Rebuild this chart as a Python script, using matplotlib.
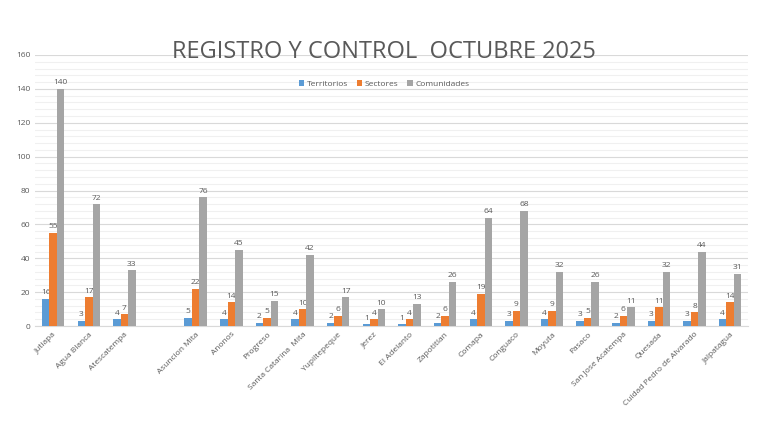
import matplotlib.pyplot as plt
import numpy as np
from matplotlib.ticker import MultipleLocator

municipios = ["Jutiapa", "Agua Blanca", "Atescatempa", "", "Asuncion Mita", "Anonos",
              "Progreso", "Santa Catarina  Mita", "Yupiltepeque", "Jerez", "El Adelanto",
              "Zapotitlan", "Comapa", "Conguaco", "Moyuta", "Pasaco", "San Jose Acatempa",
              "Quesada", "Cuidad Pedro de Alvarado", "Jalpatagua"]
territorios = [16, 3, 4, np.nan, 5, 4, 2, 4, 2, 1, 1, 2, 4, 3, 4, 3, 2, 3, 3, 4]
sectores = [55, 17, 7, np.nan, 22, 14, 5, 10, 6, 4, 4, 6, 19, 9, 9, 5, 6, 11, 8, 14]
comunidades = [140, 72, 33, np.nan, 76, 45, 15, 42, 17, 10, 13, 26, 64, 68, 32, 26, 11, 32, 44, 31]

series = [("Territorios", territorios, "#5B9BD5"),
          ("Sectores", sectores, "#ED7D31"),
          ("Comunidades", comunidades, "#A5A5A5")]

plt.rcParams["font.family"] = ["Open Sans", "DejaVu Sans"]
txt = "#595959"

fig = plt.figure(figsize=(7.68, 4.33), dpi=100)
ax = fig.add_axes([0.046, 0.247, 0.928, 0.626])

x = np.arange(len(municipios))
w = 0.21
for i, (name, vals, color) in enumerate(series):
    pos = x + (i - 1) * w
    ax.bar(pos, vals, w, color=color, label=name, zorder=3)
    for p, v in zip(pos, vals):
        if not np.isnan(v):
            ax.text(p, v + 1.5, str(int(v)), ha="center", va="bottom", fontsize=6, color=txt)

ax.set_xlim(-0.5, len(municipios) - 0.5)
ax.set_ylim(0, 160)
ax.yaxis.set_major_locator(MultipleLocator(20))
ax.yaxis.set_minor_locator(MultipleLocator(4))
ax.grid(which="major", axis="y", color="#D9D9D9", linewidth=0.8, zorder=0)
ax.grid(which="minor", axis="y", color="#F0F0F0", linewidth=0.8, zorder=0)
for s in ["top", "right", "left"]:
    ax.spines[s].set_visible(False)
ax.spines["bottom"].set_color("#D9D9D9")
ax.tick_params(axis="both", which="both", length=0, labelsize=6, labelcolor=txt)
ax.set_xticks(x)
ax.set_xticklabels(municipios, rotation=45, ha="right", rotation_mode="anchor")

fig.text(0.5, 0.88, "REGISTRO Y CONTROL  OCTUBRE 2025", ha="center", va="center",
         fontsize=17, color=txt)
fig.legend(loc="center", bbox_to_anchor=(0.5, 0.806), ncol=3, frameon=False,
           fontsize=6, labelcolor=txt, handlelength=0.7, handleheight=0.7,
           handletextpad=0.3, columnspacing=1.0)

fig.savefig("out.png", dpi=100)
